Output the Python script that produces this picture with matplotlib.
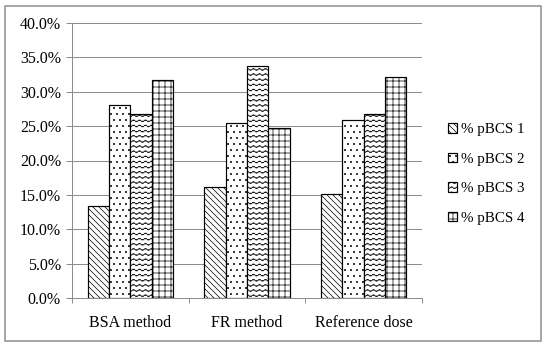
import numpy as np
import matplotlib
matplotlib.use("Agg")
import matplotlib.pyplot as plt
from matplotlib.path import Path
from matplotlib.patches import Rectangle
import matplotlib.hatch as mhatch

categories = ["BSA method", "FR method", "Reference dose"]
series = ["% pBCS 1", "% pBCS 2", "% pBCS 3", "% pBCS 4"]
pbcs1 = [13.4, 16.1, 15.2]
pbcs2 = [28.1, 25.4, 25.9]
pbcs3 = [26.8, 33.8, 26.8]
pbcs4 = [31.7, 24.7, 32.1]
yticks = [0, 5, 10, 15, 20, 25, 30, 35, 40]


# wavy hatch ('~'), not built into matplotlib
class WaveHatch(mhatch.HatchPatternBase):
    def __init__(self, hatch, density):
        self.num_lines = int(hatch.count('~') * density * 0.8)
        self.periods = 12
        self.npts = self.periods * 6 + 1
        self.num_vertices = self.num_lines * self.npts

    def set_vertices_and_codes(self, vertices, codes):
        n = self.npts
        xs = np.linspace(0.0, 1.0, n)
        offs = (1.0 / 72) * np.sin(2 * np.pi * self.periods * xs)
        steps, stepsize = np.linspace(0.0, 1.0, self.num_lines, False, retstep=True)
        steps += stepsize / 2.
        for i, y in enumerate(steps):
            vertices[i * n:(i + 1) * n, 0] = xs
            vertices[i * n:(i + 1) * n, 1] = y + offs
            codes[i * n] = Path.MOVETO
            codes[i * n + 1:(i + 1) * n] = Path.LINETO


mhatch._hatch_types.append(WaveHatch)

plt.rcParams['font.family'] = ['Liberation Serif', 'DejaVu Serif']
plt.rcParams['hatch.linewidth'] = 0.7
plt.rcParams['hatch.color'] = 'black'

fig = plt.figure(figsize=(550 / 72, 347 / 72), dpi=72)
ax = fig.add_axes([72 / 550, 1 - 298 / 347, 350 / 550, 275 / 347])

values = [pbcs1, pbcs2, pbcs3, pbcs4]
hatches = ['\\\\\\\\', '..', '~~~', '++']
x = np.arange(len(categories))
w = 0.183
handles = []
for i, (vals, h) in enumerate(zip(values, hatches)):
    b = ax.bar(x + (i - 1.5) * w, vals, w, facecolor='white', edgecolor='black',
               linewidth=1.2, hatch=h, label=series[i], zorder=3)
    handles.append(b)

ax.set_xlim(-0.5, 2.5)
ax.set_ylim(0, 40)
ax.set_yticks(yticks)
ax.set_yticklabels(['{:.1f}%'.format(v) for v in yticks], fontsize=16)
ax.set_xticks(x)
ax.set_xticklabels(categories, fontsize=16)
ax.set_xticks([-0.5, 0.5, 1.5, 2.5], minor=True)
ax.tick_params(axis='x', which='major', length=0, pad=17)
ax.tick_params(axis='x', which='minor', length=5, color='#8c8c8c', width=1)
ax.tick_params(axis='y', length=6, color='#8c8c8c', width=1, pad=5)
ax.yaxis.grid(True, color='#8c8c8c', linewidth=1)
ax.set_axisbelow(True)
for s in ['top', 'right']:
    ax.spines[s].set_visible(False)
for s in ['left', 'bottom']:
    ax.spines[s].set_color('#8c8c8c')
    ax.spines[s].set_linewidth(1)

fig.legend(handles=handles, loc='center left', bbox_to_anchor=(434 / 550, 1 - 174 / 347),
           frameon=False, fontsize=15, handlelength=0.6, handleheight=0.6,
           handletextpad=0.3, labelspacing=1.1)

fig.patches.append(Rectangle((5 / 550, 6 / 347), 536 / 550, 335 / 347, transform=fig.transFigure,
                             fill=False, edgecolor='#8c8c8c', linewidth=1.5))

fig.savefig('out.png', dpi=72)
